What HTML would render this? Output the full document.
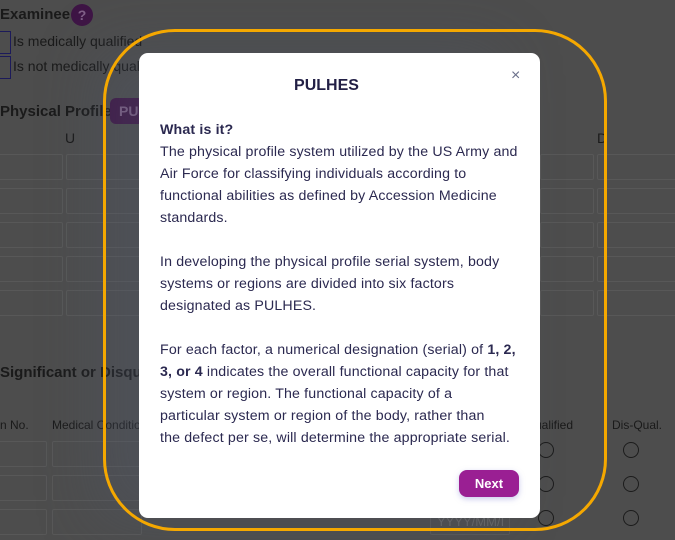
<!DOCTYPE html>
<html><head><style>
body{margin:0;width:675px;height:540px;background:#4d4d4d;position:relative;overflow:hidden;font-family:"Liberation Sans",sans-serif;color:#1a1a1a}
.a{position:absolute}
.in{position:absolute;border:1px solid #585858;box-sizing:border-box;height:26px;border-radius:2px}
.r{position:absolute;width:16px;height:16px;border:1.5px solid #1c1c1c;border-radius:50%;box-sizing:border-box}
.modal{position:absolute;left:139px;top:53px;width:401px;height:465px;background:#fff;border-radius:9px;box-shadow:-40px 0 60px rgba(80,90,110,.35)}
.txt{position:absolute;left:21px;top:66px;width:380px;font-size:14.2px;line-height:22px;color:#2b2950;white-space:nowrap;letter-spacing:0.15px}
</style></head><body>
<div class="a" style="left:0;top:6px;font-size:15px;font-weight:bold">Examinee</div>
<div class="a" style="left:71px;top:4px;width:22px;height:22px;border-radius:50%;background:#3e1545;color:#806088;font-size:14px;text-align:center;line-height:22px;font-weight:bold">?</div>
<div class="a" style="left:-8px;top:31px;width:17px;height:21px;border:1px solid #1c1a5a"></div>
<div class="a" style="left:-8px;top:56px;width:17px;height:21px;border:1px solid #1c1a5a"></div>
<div class="a" style="left:13px;top:33px;font-size:14px">Is medically qualified</div>
<div class="a" style="left:13px;top:58px;font-size:14px">Is not medically qualified</div>
<div class="a" style="left:0;top:103px;font-size:15px;font-weight:bold">Physical Profile</div>
<div class="a" style="left:110px;top:98px;width:40px;height:26px;border-radius:6px;background:#3e1545;color:#806088;font-weight:bold;font-size:14px;line-height:26px;padding-left:9px">PU</div>
<div class="a" style="left:65px;top:130px;font-size:14px">U</div>
<div class="a" style="left:597px;top:130px;font-size:14px">D</div>
<div class="in" style="left:-5px;top:154px;width:68px"></div><div class="in" style="left:66px;top:154px;width:80px"></div><div class="in" style="left:540px;top:154px;width:54px"></div><div class="in" style="left:597px;top:154px;width:90px"></div>
<div class="in" style="left:-5px;top:188px;width:68px"></div><div class="in" style="left:66px;top:188px;width:80px"></div><div class="in" style="left:540px;top:188px;width:54px"></div><div class="in" style="left:597px;top:188px;width:90px"></div>
<div class="in" style="left:-5px;top:222px;width:68px"></div><div class="in" style="left:66px;top:222px;width:80px"></div><div class="in" style="left:540px;top:222px;width:54px"></div><div class="in" style="left:597px;top:222px;width:90px"></div>
<div class="in" style="left:-5px;top:256px;width:68px"></div><div class="in" style="left:66px;top:256px;width:80px"></div><div class="in" style="left:540px;top:256px;width:54px"></div><div class="in" style="left:597px;top:256px;width:90px"></div>
<div class="in" style="left:-5px;top:290px;width:68px"></div><div class="in" style="left:66px;top:290px;width:80px"></div><div class="in" style="left:540px;top:290px;width:54px"></div><div class="in" style="left:597px;top:290px;width:90px"></div>
<div class="a" style="left:0;top:364px;font-size:15px;font-weight:bold">Significant or Disqualifying</div>
<div class="a" style="left:0;top:418px;font-size:12px">n No.</div>
<div class="a" style="left:52px;top:418px;font-size:12px">Medical Condition</div>
<div class="a" style="left:535px;top:418px;font-size:12px">ualified</div>
<div class="a" style="left:612px;top:418px;font-size:12px">Dis-Qual.</div>
<div class="in" style="left:-5px;top:441px;width:52px"></div><div class="in" style="left:52px;top:441px;width:90px"></div>
<div class="in" style="left:-5px;top:475px;width:52px"></div><div class="in" style="left:52px;top:475px;width:90px"></div>
<div class="in" style="left:-5px;top:509px;width:52px"></div><div class="in" style="left:52px;top:509px;width:90px"></div>
<div class="in" style="left:430px;top:509px;width:80px;font-size:13px;color:#666;padding:4px 0 0 6px">YYYY/MM/I</div>
<div class="r" style="left:538px;top:442px"></div><div class="r" style="left:623px;top:442px"></div>
<div class="r" style="left:538px;top:476px"></div><div class="r" style="left:623px;top:476px"></div>
<div class="r" style="left:538px;top:510px"></div><div class="r" style="left:623px;top:510px"></div>
<div class="modal">
<div class="a" style="left:0;width:375px;top:24px;text-align:center;font-weight:bold;font-size:16px;color:#221f45">PULHES</div>
<div class="a" style="left:372px;top:14px;font-size:16px;color:#6a6f8a">×</div>
<div class="txt"><b>What is it?</b><br>The physical profile system utilized by the US Army and<br>Air Force for classifying individuals according to<br>functional abilities as defined by Accession Medicine<br>standards.<br><br>In developing the physical profile serial system, body<br>systems or regions are divided into six factors<br>designated as PULHES.<br><br>For each factor, a numerical designation (serial) of <b>1, 2,</b><br><b>3, or 4</b> indicates the overall functional capacity for that<br>system or region. The functional capacity of a<br>particular system or region of the body, rather than<br>the defect per se, will determine the appropriate serial.</div>
<div class="a" style="left:320px;top:417px;width:60px;height:27px;border-radius:8px;background:#9a1f93;color:#fff;font-weight:bold;font-size:13px;text-align:center;line-height:27px;box-shadow:0 2px 6px rgba(150,150,220,.5)">Next</div>
</div>
<div class="a" style="left:103px;top:29px;width:504px;height:502px;border:3px solid #f5a800;border-radius:72px;box-sizing:border-box"></div>
</body></html>
